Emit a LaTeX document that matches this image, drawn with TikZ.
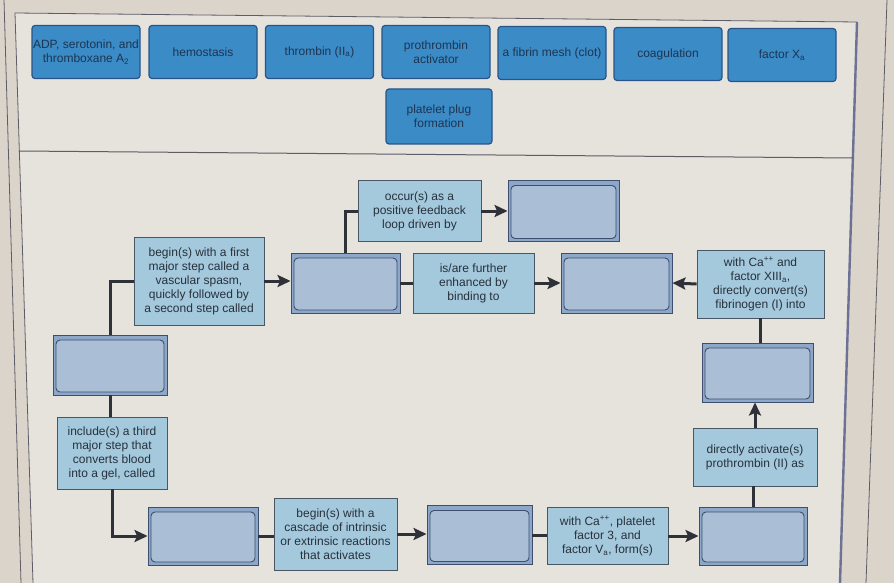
\documentclass[tikz,border=0pt]{standalone}
\usepackage{fontspec}
\setmainfont{Liberation Sans}
\usetikzlibrary{arrows.meta}
\definecolor{ClotPaper}{HTML}{DAD4CB}
\definecolor{ClotPanel}{HTML}{E6E2DC}
\definecolor{ClotFrame}{HTML}{5E5C66}
\definecolor{ClotRail}{HTML}{6D7194}
\definecolor{ClotTile}{HTML}{3B8BC7}
\definecolor{ClotTileEdge}{HTML}{2A5488}
\definecolor{ClotTileInk}{HTML}{1D3552}
\definecolor{ClotCue}{HTML}{A4C8DC}
\definecolor{ClotCueEdge}{HTML}{4A5664}
\definecolor{ClotInk}{HTML}{27313C}
\definecolor{ClotBand}{HTML}{8CA7C8}
\definecolor{ClotSlot}{HTML}{AABED6}
\definecolor{ClotSlotEdge}{HTML}{3D4E6E}
\definecolor{ClotLink}{HTML}{2F3138}

\begin{document}
\begin{tikzpicture}[
  x=1pt,y=-1pt,
  font=\fontsize{12}{14}\selectfont,
  tile/.style={draw=ClotTileEdge,fill=ClotTile,text=ClotTileInk,rounded corners=3pt,line width=1.2pt,align=center,inner sep=1pt,minimum width=108pt,minimum height=53pt},
  cue/.style={draw=ClotCueEdge,fill=ClotCue,text=ClotInk,line width=0.9pt,align=center,inner sep=1pt},
  slot/.style={draw=ClotSlotEdge,fill=ClotBand,line width=0.9pt,inner sep=0pt,
    path picture={\draw[ClotSlotEdge,fill=ClotSlot,rounded corners=4pt,line width=0.9pt]
      ([shift={(3pt,-5pt)}]path picture bounding box.north west) rectangle
      ([shift={(-3pt,3pt)}]path picture bounding box.south east);}},
  link/.style={draw=ClotLink,line width=3pt},
  arrow/.style={link,-{Stealth[length=13pt,width=12pt,inset=2.5pt]}}
]
\useasboundingbox (0,0) rectangle (894,583);
% screen and panel
\fill[ClotPaper] (0,0) rectangle (894,583);
\fill[ClotPanel] (15,13) -- (857,22) -- (840,583) -- (33,583) -- cycle;
\draw[ClotFrame,line width=0.8pt] (4,0) -- (21,583);
\draw[ClotFrame,line width=0.8pt] (887,0) -- (866,583);
\draw[ClotFrame,line width=0.8pt] (33,583) -- (15,13) -- (857,22);
\draw[ClotRail,line width=2.4pt] (857,22) -- (840,583);
\draw[ClotFrame,line width=1pt] (19,151) -- (853,158);

% answer tiles
\node[tile] (adp) at (86,52) {ADP, serotonin, and\\thromboxane A\textsubscript{2}};
\node[tile] (hemostasis) at (203,52) {hemostasis};
\node[tile] (thrombin) at (319.5,52) {thrombin (II\textsubscript{a})};
\node[tile] (activator) at (436,52) {prothrombin\\activator};
\node[tile] (mesh) at (552,53) {a fibrin mesh (clot)};
\node[tile] (coagulation) at (668,54) {coagulation};
\node[tile] (factorXa) at (782,55) {factor X\textsubscript{a}};
\node[tile,minimum width=106pt,minimum height=55pt] (plug) at (439,116.5) {platelet plug\\formation};

% empty slots
\node[slot,minimum width=114pt,minimum height=60pt] (hemostasisSlot) at (110,365) {};
\node[slot,minimum width=109pt,minimum height=60pt] (plugSlot) at (345.5,283) {};
\node[slot,minimum width=111pt,minimum height=61pt] (adpSlot) at (563.5,211) {};
\node[slot,minimum width=111pt,minimum height=60pt] (meshSlot) at (616.5,283) {};
\node[slot,minimum width=111pt,minimum height=59pt] (thrombinSlot) at (757.5,372.5) {};
\node[slot,minimum width=108pt,minimum height=58pt] (activatorSlot) at (753,536) {};
\node[slot,minimum width=105pt,minimum height=59pt] (factorSlot) at (479.5,535) {};
\node[slot,minimum width=110pt,minimum height=58pt] (coagulationSlot) at (203,536) {};

% cue boxes
\node[cue,minimum width=130pt,minimum height=88pt] (spasm) at (199,281) {begin(s) with a first\\major step called a\\vascular spasm,\\quickly followed by\\a second step called};
\node[cue,minimum width=123pt,minimum height=61pt] (loop) at (419.5,211) {occur(s) as a\\positive feedback\\loop driven by};
\node[cue,minimum width=121pt,minimum height=60pt] (binding) at (473.5,283) {is/are further\\enhanced by\\binding to};
\node[cue,minimum width=127pt,minimum height=68pt] (convert) at (760.5,284) {with Ca\textsuperscript{++} and\\factor XIII\textsubscript{a},\\directly convert(s)\\fibrinogen (I) into};
\node[cue,minimum width=124pt,minimum height=58pt] (activate) at (755,457) {directly activate(s)\\prothrombin (II) as};
\node[cue,minimum width=121pt,minimum height=57pt] (form) at (607.5,536) {with Ca\textsuperscript{++}, platelet\\factor 3, and\\factor V\textsubscript{a}, form(s)};
\node[cue,minimum width=123pt,minimum height=72pt] (cascade) at (335.5,534) {begin(s) with a\\cascade of intrinsic\\or extrinsic reactions\\that activates};
\node[cue,minimum width=110pt,minimum height=72pt] (gel) at (112,453) {include(s) a third\\major step that\\converts blood\\into a gel, called};

% connectors
\draw[link] (hemostasisSlot.north) |- (spasm.west);
\draw[arrow] (spasm.east) -- (spasm.east -| plugSlot.west);
\draw[link] (plugSlot.north) |- (loop.west);
\draw[arrow] (loop.east) -- (adpSlot.west);
\draw[link] (plugSlot.east) -- (binding.west);
\draw[arrow] (binding.east) -- (meshSlot.west);
\draw[arrow] (convert.west) -- (meshSlot.east);
\draw[link] (convert.south) -- (convert.south |- thrombinSlot.north);
\draw[arrow] (activate.north) -- (activate.north |- thrombinSlot.south);
\draw[link] (activatorSlot.north) -- (activatorSlot.north |- activate.south);
\draw[arrow] (form.east) -- (form.east -| activatorSlot.west);
\draw[link] (factorSlot.east) -- (factorSlot.east -| form.west);
\draw[arrow] (cascade.east) -- (cascade.east -| factorSlot.west);
\draw[link] (coagulationSlot.east) -- (coagulationSlot.east -| cascade.west);
\draw[arrow] (gel.south) |- (coagulationSlot.west);
\draw[link] (hemostasisSlot.south) -- (hemostasisSlot.south |- gel.north);
\end{tikzpicture}
\end{document}
